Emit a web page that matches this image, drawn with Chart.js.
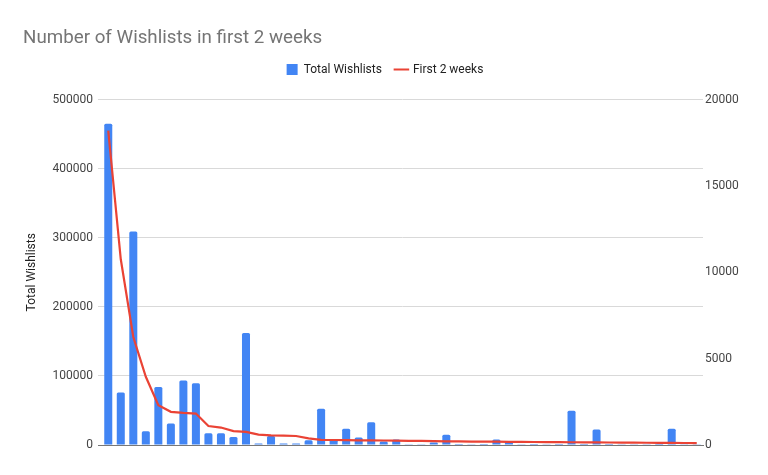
<!DOCTYPE html>
<html>
<head>
<meta charset="utf-8">
<script src="https://cdn.jsdelivr.net/npm/chart.js@4"></script>
<style>
  html, body { margin: 0; padding: 0; background: #fff; }
  #wrap { width: 768px; height: 475px; }
</style>
</head>
<body>
<div id="wrap"><canvas id="chart"></canvas></div>
<script>
// values
const categories = Array.from({ length: 48 }, (_, i) => 'Game ' + (i + 1));

const totalWishlists = [
  465000, 76000, 309000, 20000, 84000, 31000, 93500, 89500, 17000, 17000,
  11500, 162000, 2000, 13000, 2000, 2000, 7000, 52500, 7500, 23500,
  11000, 33000, 5000, 8000, 500, 500, 3500, 15000, 1500, 500,
  1500, 8000, 5000, 500, 1500, 500, 1500, 49500, 1500, 22500,
  1500, 500, 500, 500, 1500, 23500, 1000, 500
];

const firstTwoWeeks = [
  18200, 10750, 6250, 3950, 2300, 1920, 1860, 1820, 1100, 1010,
  800, 760, 600, 560, 540, 520, 380, 300, 290, 280,
  270, 265, 260, 250, 240, 235, 225, 215, 205, 200,
  195, 190, 185, 180, 175, 170, 165, 160, 155, 150,
  145, 140, 135, 130, 125, 120, 115, 110
];

const leftTicks = [0, 100000, 200000, 300000, 400000, 500000];
const rightTicks = [0, 5000, 10000, 15000, 20000];

const BLUE = '#4285f4';
const RED = '#ea4335';

Chart.defaults.font.family = 'Roboto, Arial, sans-serif';
Chart.defaults.font.size = 12;
Chart.defaults.color = '#444';

// extra room between the legend and the plot
const legendGap = {
  id: 'legendGap',
  beforeInit(chart) {
    const fit = chart.legend.fit;
    chart.legend.fit = function () {
      fit.call(this);
      this.height += 14;
    };
  }
};

new Chart(document.getElementById('chart'), {
  type: 'bar',
  plugins: [legendGap],
  data: {
    labels: categories,
    datasets: [
      {
        type: 'line',
        label: 'First 2 weeks',
        data: firstTwoWeeks,
        yAxisID: 'y1',
        borderColor: RED,
        backgroundColor: RED,
        borderWidth: 2.2,
        pointRadius: 0,
        pointStyle: 'line',
        tension: 0,
        order: 0
      },
      {
        label: 'Total Wishlists',
        data: totalWishlists,
        yAxisID: 'y',
        backgroundColor: BLUE,
        borderColor: BLUE,
        pointStyle: 'rect',
        barPercentage: 0.64,
        categoryPercentage: 1,
        borderRadius: { topLeft: 1.5, topRight: 1.5 },
        borderSkipped: 'bottom',
        order: 1
      }
    ]
  },
  options: {
    responsive: true,
    maintainAspectRatio: false,
    animation: false,
    layout: { padding: { left: 23, right: 21, top: 0, bottom: 22 } },
    plugins: {
      title: {
        display: true,
        text: 'Number of Wishlists in first 2 weeks',
        align: 'start',
        color: '#757575',
        font: { size: 18.75, weight: 'normal' },
        padding: { top: 27, bottom: 0 }
      },
      legend: {
        reverse: true,
        labels: {
          usePointStyle: true,
          boxHeight: 11,
          boxWidth: 11,
          padding: 14,
          color: '#222',
          font: { size: 12 }
        }
      },
      tooltip: { enabled: false }
    },
    scales: {
      x: {
        ticks: { display: false },
        grid: { display: false },
        border: { color: '#777', width: 1 }
      },
      y: {
        position: 'left',
        min: 0,
        max: 500000,
        afterBuildTicks: (s) => { s.ticks = leftTicks.map(v => ({ value: v })); },
        afterFit: (s) => { s.width = 79; },
        ticks: { padding: 5, color: '#444', callback: (v) => String(v) },
        grid: {
          color: (c) => c.tick && c.tick.value === 0 ? '#777' : '#d9d9d9',
          tickLength: 4
        },
        border: { display: false },
        title: {
          display: true,
          text: 'Total Wishlists',
          color: '#222',
          font: { size: 12 },
          padding: { top: 2, bottom: 0 }
        }
      },
      y1: {
        position: 'right',
        min: 0,
        max: 20000,
        afterBuildTicks: (s) => { s.ticks = rightTicks.map(v => ({ value: v })); },
        afterFit: (s) => { s.width = 44; },
        ticks: { padding: 2, color: '#444', callback: (v) => String(v) },
        grid: { display: false, drawTicks: false, tickLength: 0 },
        border: { display: false }
      }
    }
  }
});
</script>
</body>
</html>
